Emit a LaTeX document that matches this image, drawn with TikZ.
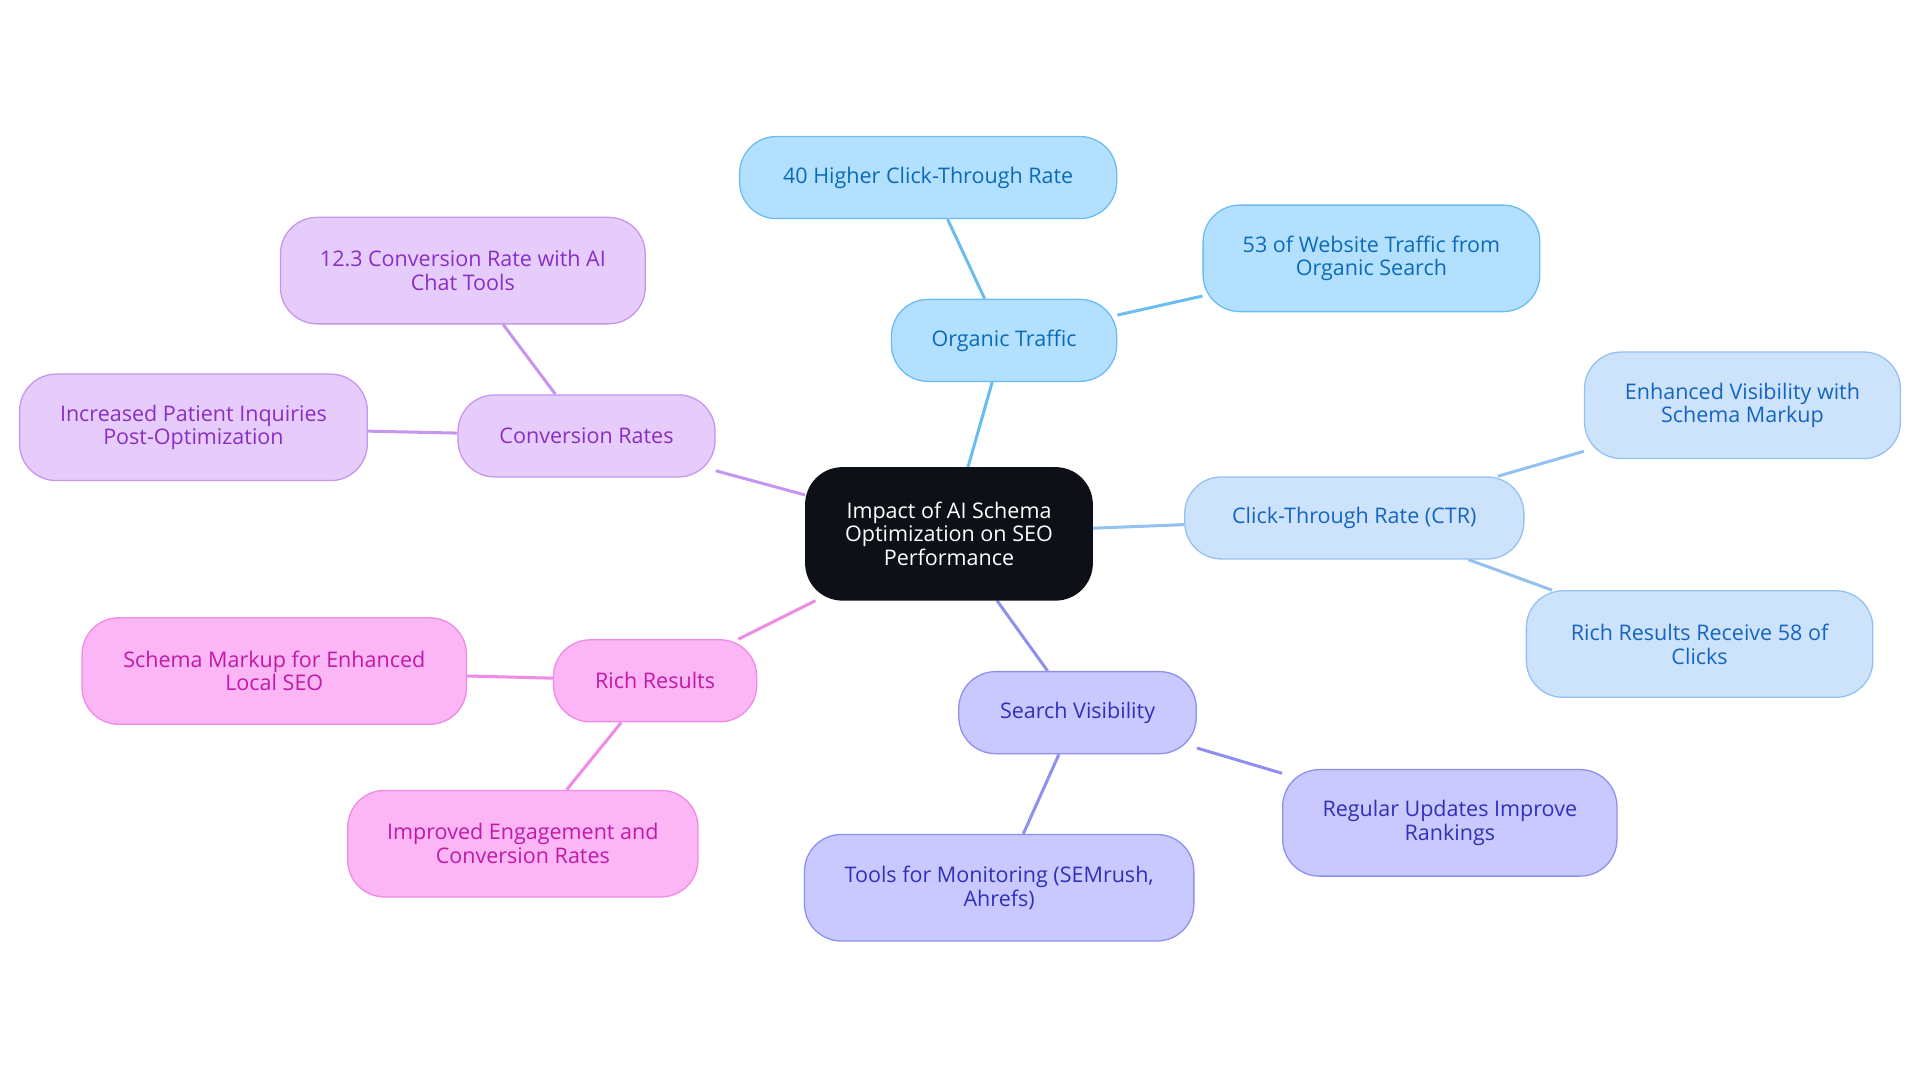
\documentclass[tikz,border=0pt]{standalone}
\usepackage{fontspec}
\setmainfont{Open Sans}
\usetikzlibrary{backgrounds}
\definecolor{rootfill}{HTML}{0D1117}
\definecolor{orgfill}{HTML}{B3E0FF}\definecolor{orgline}{HTML}{6BBCF0}\definecolor{orgtext}{HTML}{0B6BB8}
\definecolor{ctrfill}{HTML}{CCE3FB}\definecolor{ctrline}{HTML}{94C2F0}\definecolor{ctrtext}{HTML}{1565C0}
\definecolor{visfill}{HTML}{C9C9FF}\definecolor{visline}{HTML}{8F8FEE}\definecolor{vistext}{HTML}{3030B8}
\definecolor{richfill}{HTML}{FCB5F5}\definecolor{richline}{HTML}{F08AE5}\definecolor{richtext}{HTML}{C01AA8}
\definecolor{convfill}{HTML}{E6CCFB}\definecolor{convline}{HTML}{C795F0}\definecolor{convtext}{HTML}{8A2EC4}
\begin{document}
\begin{tikzpicture}[x=0.02cm,y=-0.02cm]
  \tikzset{box/.style = {rectangle, draw, line width=0.6pt, rounded corners=0.6cm, align=center, font=\fontsize{10}{11}\selectfont, inner sep=0pt, minimum height=1.34cm},
           tall/.style = {minimum height=1.74cm},
           org/.style = {box, fill=orgfill, draw=orgline, text=orgtext},
           ctr/.style = {box, fill=ctrfill, draw=ctrline, text=ctrtext},
           vis/.style = {box, fill=visfill, draw=visline, text=vistext},
           rich/.style = {box, fill=richfill, draw=richline, text=richtext},
           conv/.style = {box, fill=convfill, draw=convline, text=convtext},
           link/.style = {line width=1.4pt}}
  \useasboundingbox (0,0) rectangle (1568,884);
  % root
  \node (root) [box, fill=rootfill, draw=rootfill, text=white, minimum width=4.68cm, minimum height=2.16cm] at (775,436) {Impact of AI Schema\\Optimization on SEO\\Performance};
  % organic traffic
  \node (org) [org, minimum width=3.68cm] at (820,278) {Organic Traffic};
  \node (org1) [org, minimum width=6.16cm] at (758,145) {40 Higher Click-Through Rate};
  \node (org2) [org, tall, minimum width=5.5cm] at (1120,211) {53 of Website Traffic from\\Organic Search};
  % click-through rate
  \node (ctr) [ctr, minimum width=5.54cm] at (1106,423) {Click-Through Rate (CTR)};
  \node (ctr1) [ctr, tall, minimum width=5.16cm] at (1423,331) {Enhanced Visibility with\\Schema Markup};
  \node (ctr2) [ctr, tall, minimum width=5.66cm] at (1388,526) {Rich Results Receive 58 of\\Clicks};
  % search visibility
  \node (vis) [vis, minimum width=3.88cm] at (880,582) {Search Visibility};
  \node (vis1) [vis, tall, minimum width=5.46cm] at (1184,672) {Regular Updates Improve\\Rankings};
  \node (vis2) [vis, tall, minimum width=6.36cm] at (816,725) {Tools for Monitoring (SEMrush,\\Ahrefs)};
  % rich results
  \node (rich) [rich, minimum width=3.32cm] at (535,556) {Rich Results};
  \node (rich1) [rich, tall, minimum width=6.28cm] at (224,548) {Schema Markup for Enhanced\\Local SEO};
  \node (rich2) [rich, tall, minimum width=5.72cm] at (427,689) {Improved Engagement and\\Conversion Rates};
  % conversion rates
  \node (conv) [conv, minimum width=4.2cm] at (479,356) {Conversion Rates};
  \node (conv1) [conv, tall, minimum width=5.96cm] at (378,221) {12.3 Conversion Rate with AI\\Chat Tools};
  \node (conv2) [conv, tall, minimum width=5.68cm] at (158,349) {Increased Patient Inquiries\\Post-Optimization};
  \begin{pgfonlayer}{background}
    \draw [link, orgline] (root)--(org) (org)--(org1) (org)--(org2);
    \draw [link, ctrline] (root)--(ctr) (ctr)--(ctr1) (ctr)--(ctr2);
    \draw [link, visline] (root)--(vis) (vis)--(vis1) (vis)--(vis2);
    \draw [link, richline] (root)--(rich) (rich)--(rich1) (rich)--(rich2);
    \draw [link, convline] (root)--(conv) (conv)--(conv1) (conv)--(conv2);
  \end{pgfonlayer}
\end{tikzpicture}
\end{document}
